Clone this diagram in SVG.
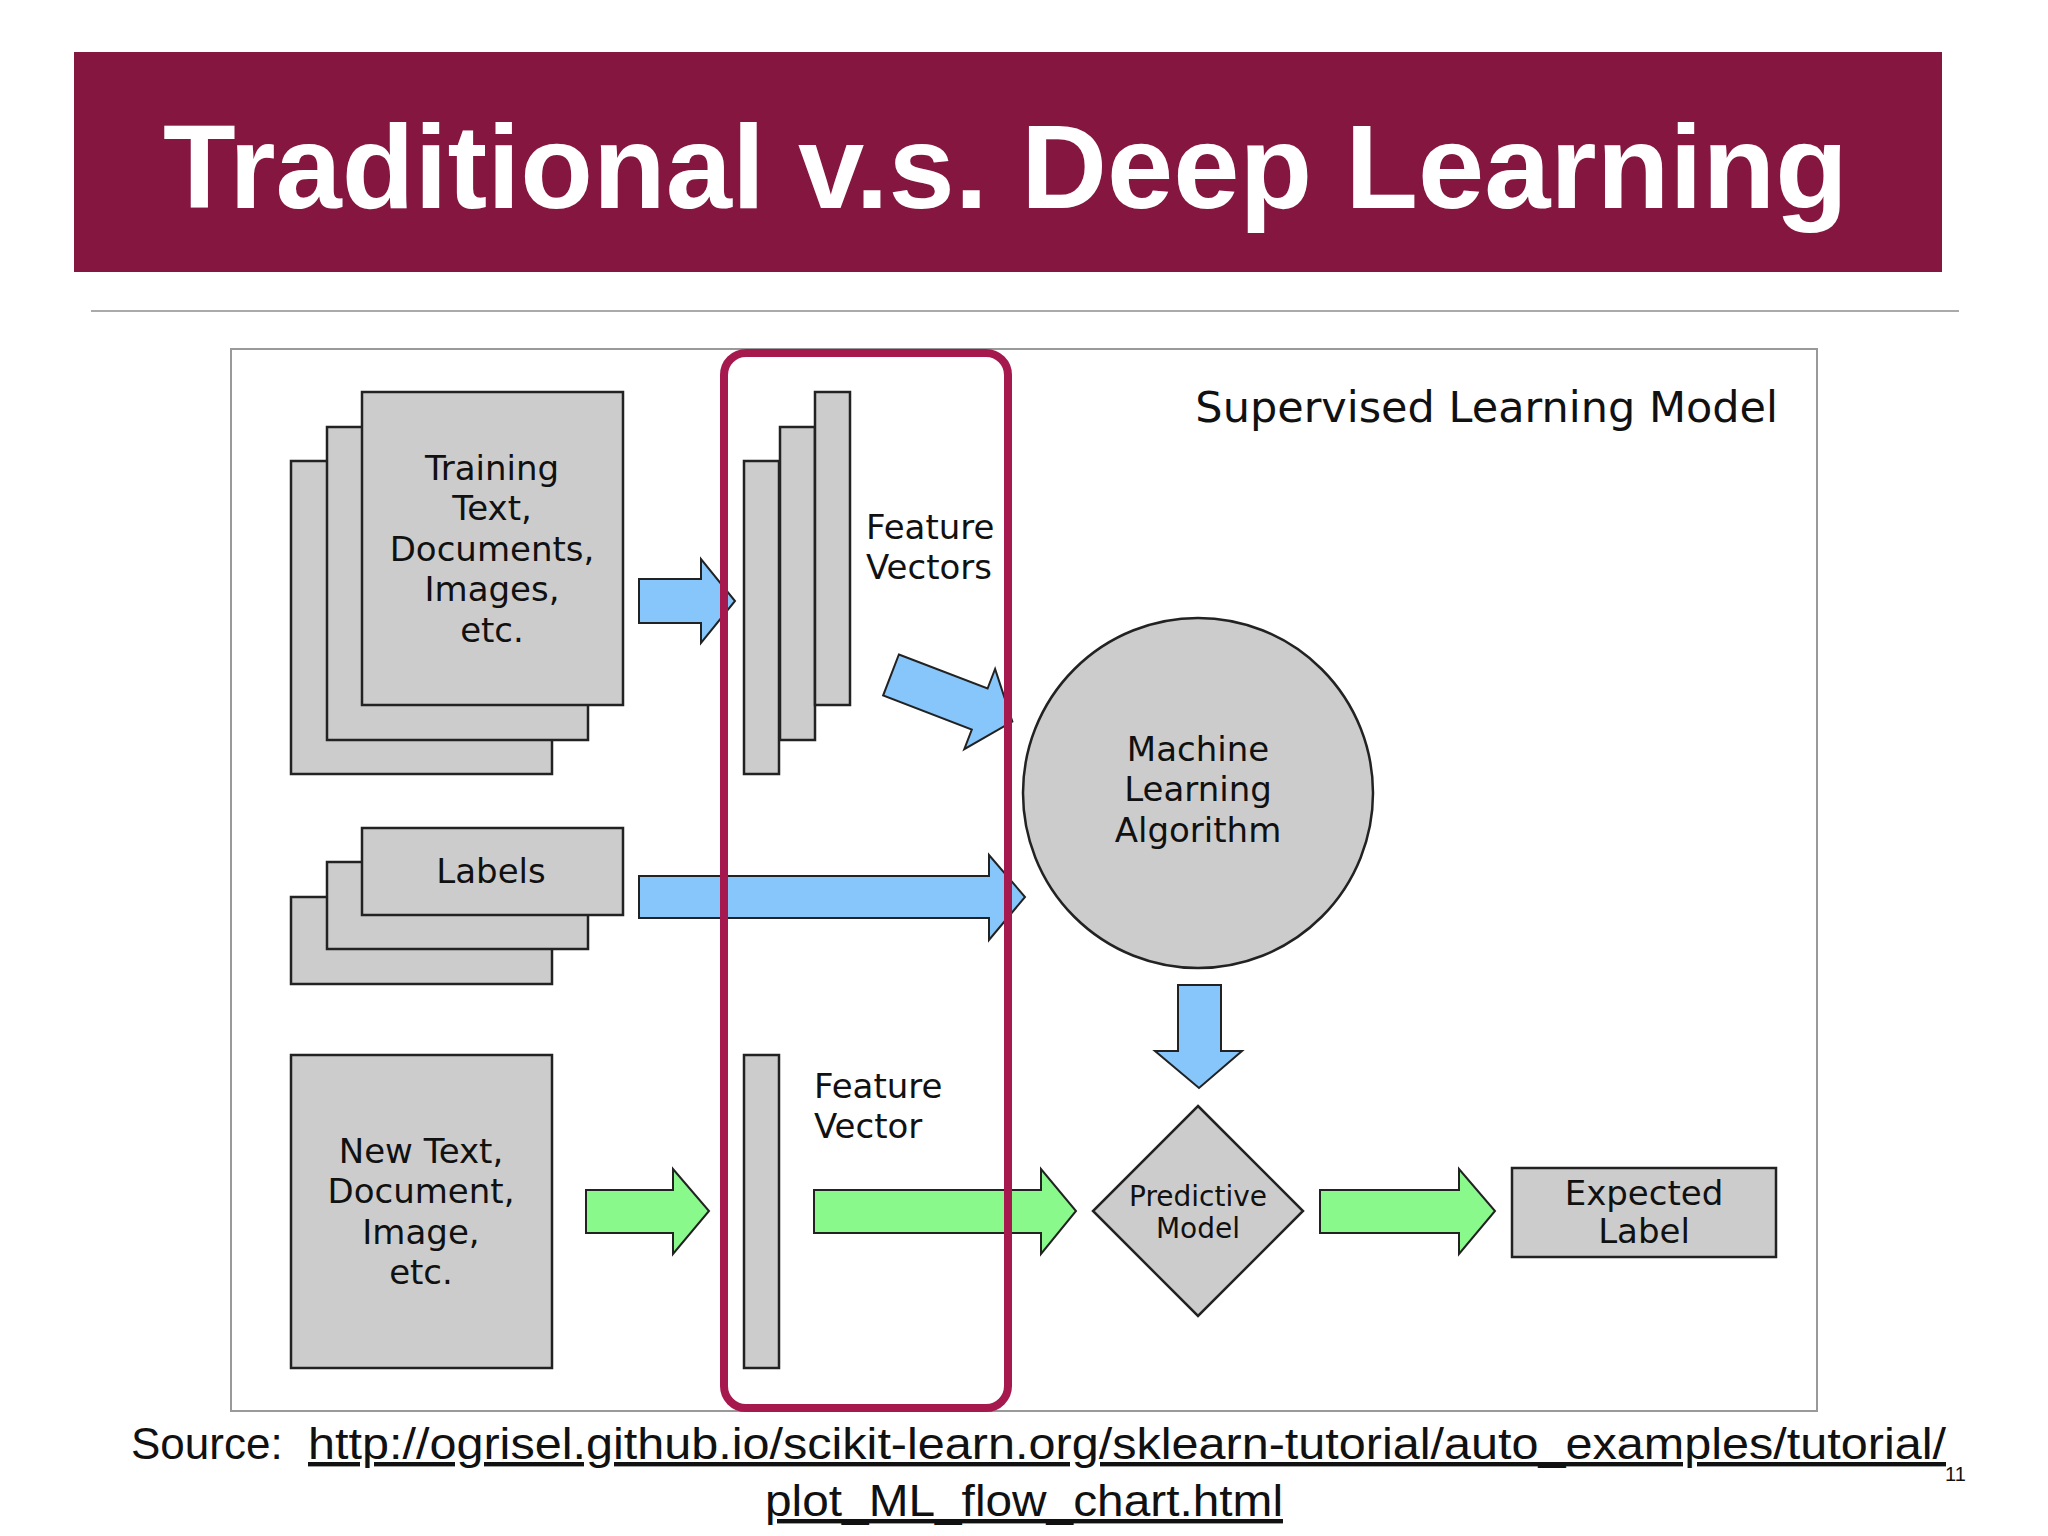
<svg xmlns="http://www.w3.org/2000/svg" width="2048" height="1536" viewBox="0 0 2048 1536">
<style>
.g{fill:#cccccc;stroke:#222;stroke-width:2.5}
.b{fill:#87c6fa;stroke:#222;stroke-width:2}
.gr{fill:#88f98a;stroke:#222;stroke-width:2}
.t{font-family:"DejaVu Sans",sans-serif;font-size:34px;fill:#111;text-anchor:middle}
.tl{font-family:"DejaVu Sans",sans-serif;font-size:34px;fill:#111}
</style>
<rect width="2048" height="1536" fill="#fff"/>
<rect x="74" y="52" width="1868" height="220" fill="#84163f"/>
<text x="163" y="208" textLength="1685" lengthAdjust="spacingAndGlyphs" font-family="Liberation Sans,Arial,sans-serif" font-weight="bold" font-size="118" fill="#fff">Traditional v.s. Deep Learning</text>
<line x1="91" y1="311" x2="1959" y2="311" stroke="#aaa" stroke-width="2"/>
<rect x="231" y="349" width="1586" height="1062" fill="#fff" stroke="#999" stroke-width="2"/>
<text x="1778" y="422" font-family="DejaVu Sans,sans-serif" font-size="43" fill="#111" text-anchor="end">Supervised Learning Model</text>
<g id="training">
<rect class="g" x="291" y="461" width="261" height="313"/>
<rect class="g" x="327" y="427" width="261" height="313"/>
<rect class="g" x="362" y="392" width="261" height="313"/>
<text class="t" x="492"><tspan x="492" y="480">Training</tspan><tspan x="492" y="520">Text,</tspan><tspan x="492" y="561">Documents,</tspan><tspan x="492" y="601">Images,</tspan><tspan x="492" y="642">etc.</tspan></text>
</g>
<g id="featurevectors">
<rect class="g" x="744" y="461" width="35" height="313"/>
<rect class="g" x="780" y="427" width="35" height="313"/>
<rect class="g" x="815" y="392" width="35" height="313"/>
<text class="tl"><tspan x="866" y="539">Feature</tspan><tspan x="866" y="579">Vectors</tspan></text>
</g>
<g id="ml">
<circle class="g" cx="1198" cy="793" r="175"/>
<text class="t"><tspan x="1198" y="761">Machine</tspan><tspan x="1198" y="801">Learning</tspan><tspan x="1198" y="842">Algorithm</tspan></text>
</g>
<g id="labels">
<rect class="g" x="291" y="897" width="261" height="87"/>
<rect class="g" x="327" y="862" width="261" height="87"/>
<rect class="g" x="362" y="828" width="261" height="87"/>
<text class="t" x="491" y="883">Labels</text>
</g>
<g id="newtext">
<rect class="g" x="291" y="1055" width="261" height="313"/>
<text class="t"><tspan x="421" y="1163">New Text,</tspan><tspan x="421" y="1203">Document,</tspan><tspan x="421" y="1244">Image,</tspan><tspan x="421" y="1284">etc.</tspan></text>
</g>
<g id="featurevector">
<rect class="g" x="744" y="1055" width="35" height="313"/>
<text class="tl"><tspan x="814" y="1098">Feature</tspan><tspan x="814" y="1138">Vector</tspan></text>
</g>
<g id="predictive">
<polygon class="g" points="1198,1106 1303,1211 1198,1316 1093,1211"/>
<text class="t" style="font-size:28px"><tspan x="1198" y="1206">Predictive</tspan><tspan x="1198" y="1238">Model</tspan></text>
</g>
<g id="expected">
<rect class="g" x="1512" y="1168" width="264" height="89"/>
<text class="t"><tspan x="1644" y="1205">Expected</tspan><tspan x="1644" y="1243">Label</tspan></text>
</g>
<g id="connectors">
<polygon class="b" points="639,579 701,579 701,559 735,601 701,643 701,623 639,623"/>
<polygon class="b" transform="translate(891,675) rotate(21)" points="0,-22 95,-22 95,-43 130,0 95,43 95,22 0,22"/>
<polygon class="b" points="639,876 989,876 989,855 1025,897 989,940 989,918 639,918"/>
<polygon class="b" points="1178,985 1221,985 1221,1051 1242,1051 1199,1088 1155,1051 1178,1051"/>
<polygon class="gr" points="586,1190 673,1190 673,1169 709,1211 673,1254 673,1233 586,1233"/>
<polygon class="gr" points="814,1190 1041,1190 1041,1169 1076,1211 1041,1254 1041,1233 814,1233"/>
<polygon class="gr" points="1320,1190 1459,1190 1459,1169 1495,1211 1459,1254 1459,1233 1320,1233"/>
</g>
<rect x="724" y="353" width="284" height="1055" rx="22" fill="none" stroke="#a5194f" stroke-width="8"/>
<g font-family="Liberation Sans,Arial,sans-serif" font-size="44" fill="#111">
<text x="131" y="1459">Source: </text>
<text x="308" y="1459" textLength="1638" lengthAdjust="spacingAndGlyphs" text-decoration="underline">http://ogrisel.github.io/scikit-learn.org/sklearn-tutorial/auto_examples/tutorial/</text>
<text x="765" y="1516" textLength="518" lengthAdjust="spacingAndGlyphs" text-decoration="underline">plot_ML_flow_chart.html</text>
<text x="1945" y="1481" font-size="20">11</text>
</g>
</svg>
